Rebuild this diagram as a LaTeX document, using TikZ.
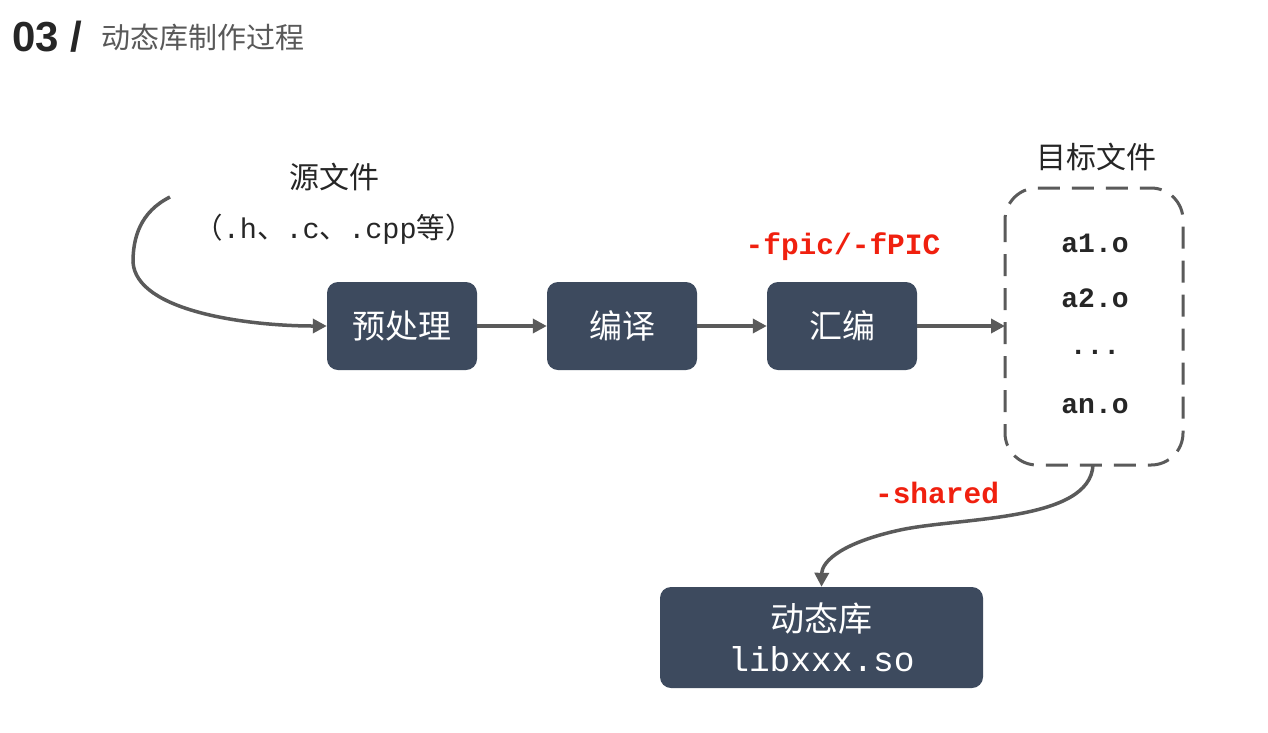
\documentclass[tikz,border=0pt]{standalone}
\usepackage{fontspec}
\setmainfont{Liberation Sans}
\setmonofont{Liberation Mono}
\newfontfamily\cjk{Noto Sans CJK SC}
\usetikzlibrary{arrows.meta}
\definecolor{boxfill}{HTML}{3D4A5E}
\definecolor{linegray}{HTML}{5A5A5A}
\definecolor{labred}{HTML}{F0200F}
\tikzset{
  stepbox/.style={draw=none, fill=boxfill, rounded corners=11pt, minimum width=150pt, minimum height=88pt, inner sep=0pt, text=white, font=\cjk\fontsize{33}{36}\selectfont},
  conn/.style={draw=linegray, line width=3.5pt, -{Triangle[length=14pt,width=14pt]}},
  objtext/.style={font=\ttfamily\bfseries\fontsize{28}{30}\selectfont, text=black!85},
  flag/.style={font=\ttfamily\bfseries\fontsize{29.5}{32}\selectfont, text=labred},
  lbl/.style={font=\cjk\fontsize{30}{34}\selectfont, text=black!85}
}
\begin{document}
\begin{tikzpicture}[x=1pt,y=-1pt]
\useasboundingbox (0,0) rectangle (1268,732);
\fill[white] (0,0) rectangle (1268,732);
% title
\node[anchor=west, inner sep=0pt, font=\bfseries\fontsize{42}{46}\selectfont, text=black!85] (num) at (12,37) {03 /};
\node[anchor=west, inner sep=0pt, font=\cjk\fontsize{29}{32}\selectfont, text=black!65] (ttl) at (101,37) {动态库制作过程};
% source label
\node[lbl] (src) at (334,177) {源文件};
\node[inner sep=0pt, text=black!85] (srcext) at (334,229) {\fontsize{28.5}{32}\selectfont{\cjk （}\ttfamily .h{\cjk 、}.c{\cjk 、}.cpp{\cjk 等）}};
% process boxes
\node[stepbox] (pre) at (402,326) {预处理};
\node[stepbox] (cmp) at (622,326) {编译};
\node[stepbox] (asm) at (842,326) {汇编};
% object files
\node[lbl] (objl) at (1096,157) {目标文件};
\draw[linegray, line width=3pt, dash pattern=on 22pt off 12pt, rounded corners=32pt] (1005,188) rectangle (1183,465);
\coordinate (objW) at (1005,326);
\coordinate (objS) at (1093,465);
\node[objtext] (a1) at (1095,243) {a1.o};
\node[objtext] (a2) at (1095,298) {a2.o};
\node[objtext] (dots) at (1095,352) {...};
\node[objtext] (an) at (1095,406) {an.o};
% flags
\node[flag] (fpic) at (843,247) {-fpic/-fPIC};
\node[flag] (shared) at (937,493) {-shared};
% library box
\node[stepbox, minimum width=323pt, minimum height=101pt] (lib) at (821.5,637.5) {};
\node[font=\cjk\fontsize{34}{36}\selectfont, text=white, inner sep=0pt] (libname) at (821.5,619) {动态库};
\node[font=\ttfamily\fontsize{34.5}{36}\selectfont, text=white, inner sep=0pt] (libfile) at (821.5,659) {libxxx.so};
% connectors
\coordinate (start) at (170,197);
\draw[conn] (start) .. controls (140,212) and (133,238) .. (133,262) .. controls (136,312) and (250,326) .. (pre.west);
\draw[conn] (pre.east) -- (cmp.west);
\draw[conn] (cmp.east) -- (asm.west);
\draw[conn] (asm.east) -- (objW);
\draw[conn] (objS) .. controls (1090,522) and (960,517) .. (900,530) .. controls (845,542) and (822,560) .. (lib.north);
\end{tikzpicture}
\end{document}
